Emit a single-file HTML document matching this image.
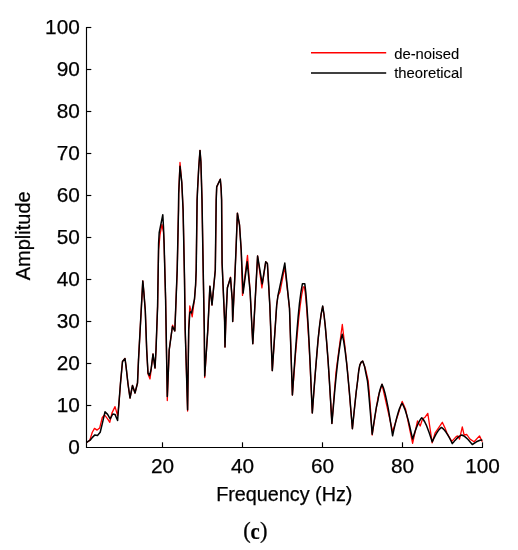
<!DOCTYPE html>
<html><head><meta charset="utf-8"><style>
html,body{margin:0;padding:0;background:#fff;}
body{width:518px;height:550px;overflow:hidden;}
svg{display:block;}
text{font-family:"Liberation Sans",Arial,sans-serif;fill:#000;stroke:#000;stroke-width:0.25px;}
text.sf{font-family:"Liberation Serif","Times New Roman",serif;}
</style></head><body>
<svg width="518" height="550" viewBox="0 0 518 550">
<rect width="518" height="550" fill="#fff"/>
<polyline points="86.6,442.4 89.7,440.5 92.3,432.3 94.5,428.4 97.1,430.1 99.7,427.9 102.3,417.5 104.5,414.8 107.6,418.8 109.8,422.3 111.9,413.1 115.0,406.6 117.6,415.5 118.9,404.4 120.5,383.0 122.5,361.5 125.0,358.5 126.0,366.0 128.0,384.0 130.0,398.0 132.5,385.5 135.0,393.0 137.5,383.0 138.5,360.0 142.8,280.9 143.8,291.8 145.3,310.7 146.7,350.0 148.0,374.0 150.0,379.0 151.0,371.0 153.0,354.0 155.0,368.0 156.0,350.0 157.6,306.3 158.6,250.0 160.0,235.0 161.9,224.5 163.5,232.0 164.1,243.6 165.6,299.0 167.3,400.5 169.2,350.0 172.6,325.2 174.8,331.0 175.8,306.3 177.2,270.0 178.5,210.0 178.7,193.6 180.0,162.5 181.8,182.7 183.1,210.0 184.5,278.6 185.2,330.0 187.6,411.0 188.7,330.0 189.8,305.9 192.2,316.9 194.5,299.0 195.6,285.0 196.2,270.0 197.1,200.0 197.6,189.0 198.7,168.3 200.0,150.4 200.9,161.8 202.0,200.0 203.2,270.0 204.3,330.0 204.7,377.5 207.8,330.0 209.9,286.2 211.3,299.0 212.0,305.0 214.2,281.6 215.3,270.0 216.2,200.0 216.7,186.9 220.3,179.2 221.1,188.0 221.6,200.0 222.1,263.2 224.6,321.0 225.0,347.0 225.9,318.8 227.4,287.8 230.5,277.2 232.3,300.6 232.7,321.5 235.0,273.2 236.0,250.0 237.4,213.2 239.5,224.8 241.2,250.0 242.5,295.4 247.5,255.4 250.1,291.3 252.8,343.7 257.6,256.0 261.9,287.9 265.7,261.8 267.4,263.5 269.8,305.0 272.3,370.6 276.7,305.0 277.9,296.0 280.0,292.0 284.8,267.0 289.5,308.3 292.4,395.0 294.0,374.4 295.5,354.5 297.1,336.1 298.6,319.7 300.2,305.8 301.7,294.8 303.3,287.0 304.5,287.0 305.6,296.1 306.7,308.9 307.8,325.1 309.0,344.2 310.1,365.7 311.2,388.9 312.3,412.9 313.8,392.6 315.3,373.0 316.8,354.9 318.2,338.7 319.7,325.0 321.2,314.2 322.7,306.5 324.0,314.9 325.3,326.8 326.6,341.8 328.0,359.6 329.3,379.6 330.6,401.1 331.9,423.4 336.0,372.0 342.3,324.5 345.0,347.0 347.6,372.0 352.4,428.7 354.3,410.0 356.2,392.0 357.6,381.0 358.7,371.0 359.8,365.1 361.2,362.2 362.7,361.1 364.6,366.6 365.2,368.0 366.6,374.0 368.2,381.0 369.2,392.0 370.8,413.0 372.2,435.0 377.9,398.0 382.0,384.3 392.6,431.7 402.2,401.4 405.5,409.0 412.6,443.4 417.5,421.0 420.2,426.0 422.5,419.0 425.1,417.2 427.8,413.4 432.2,442.9 435.0,433.1 442.3,422.3 444.8,427.6 447.0,433.0 451.8,441.4 456.4,436.4 458.0,436.0 459.5,439.1 462.3,426.8 464.1,435.0 466.8,434.5 470.0,439.1 474.1,441.8 479.5,435.9 482.3,441.8" fill="none" stroke="#ff0000" stroke-width="1.3" stroke-linejoin="round"/>
<polyline points="86.6,442.4 90.1,440.2 92.7,437.1 94.9,434.9 97.5,435.4 100.2,432.3 102.3,423.6 105.0,411.8 107.6,414.4 110.2,418.8 112.8,414.0 115.0,414.4 117.6,420.5 120.5,383.0 122.5,361.5 125.0,358.5 126.0,366.0 128.0,384.0 130.0,398.0 132.5,385.5 135.0,393.0 137.5,383.0 138.5,360.0 142.8,280.9 143.8,291.8 145.3,310.7 146.7,350.0 148.0,373.0 149.5,375.5 151.0,370.0 153.0,354.0 155.0,368.0 156.0,350.0 157.6,306.3 158.6,243.6 159.2,232.7 160.3,227.2 162.8,214.7 163.5,227.2 164.1,243.6 165.6,299.0 167.3,396.5 169.2,350.0 172.4,326.5 174.8,331.0 175.8,306.3 177.2,270.0 178.5,210.0 178.7,193.6 180.0,166.3 181.8,182.7 183.1,210.0 184.5,278.6 185.2,330.0 187.6,409.7 188.7,330.0 189.8,312.9 190.4,311.7 191.6,312.9 194.5,299.0 195.6,285.0 196.2,270.0 197.1,200.0 197.6,189.0 198.7,168.3 200.0,150.4 200.9,161.8 202.0,200.0 203.2,270.0 204.3,330.0 204.7,375.9 207.8,330.0 209.9,286.2 211.3,299.0 212.0,305.0 214.2,281.6 215.3,270.0 216.2,200.0 216.7,186.9 220.3,179.2 221.1,188.0 221.6,200.0 222.1,263.2 224.6,321.0 225.0,347.0 225.9,318.8 227.4,287.8 230.5,277.8 232.3,300.6 232.7,321.5 235.0,273.2 236.0,250.0 237.4,213.2 239.5,224.8 241.2,250.0 243.1,293.1 247.2,261.8 250.1,291.3 252.8,343.7 257.6,256.0 262.2,283.8 265.7,261.8 267.4,263.5 269.8,305.0 272.3,370.6 276.7,305.0 277.9,296.0 284.8,263.1 289.5,308.3 292.4,395.0 293.8,373.8 295.3,353.3 296.7,334.3 298.1,317.4 299.5,303.1 301.0,291.8 302.4,283.8 304.8,283.8 305.9,293.1 306.9,306.2 308.0,322.8 309.1,342.5 310.2,364.5 311.2,388.3 312.3,412.9 313.8,392.5 315.3,372.9 316.8,354.6 318.2,338.3 319.7,324.6 321.2,313.7 322.7,306.0 324.0,314.5 325.3,326.4 326.6,341.5 328.0,359.4 329.3,379.4 330.6,401.0 331.9,423.4 333.4,406.4 334.8,390.0 336.3,374.8 337.8,361.2 339.3,349.8 340.7,340.7 342.2,334.3 343.7,341.1 345.1,350.7 346.6,362.8 348.0,377.2 349.5,393.3 350.9,410.7 352.4,428.7 354.3,410.0 356.2,392.0 357.6,381.0 358.7,371.0 359.8,365.1 361.2,362.2 362.7,361.1 364.6,366.6 365.7,372.4 367.5,381.1 368.6,392.0 370.4,413.0 372.2,434.2 373.6,424.7 375.0,415.5 376.4,407.0 377.9,400.7 379.2,393.0 380.6,387.9 382.0,384.3 383.5,388.0 385.0,393.2 386.5,399.9 388.1,407.7 389.6,416.5 391.1,426.0 392.6,435.8 393.9,429.6 395.3,423.7 396.6,418.1 398.0,413.2 399.3,409.0 400.7,405.7 402.0,403.4 403.5,406.0 405.0,409.6 406.5,414.2 408.1,419.6 409.6,425.7 411.1,432.3 412.6,439.1 413.9,435.0 415.2,431.1 416.5,427.5 417.9,424.2 419.2,421.5 420.5,419.3 421.8,417.8 423.3,419.5 424.8,422.0 426.3,425.1 427.7,428.7 429.2,432.8 430.7,437.2 432.2,441.8 433.5,439.1 434.9,436.4 436.2,433.9 437.5,431.8 438.8,429.9 440.2,428.4 441.5,427.4 443.0,428.6 444.6,430.2 446.1,432.3 447.7,434.8 449.2,437.5 450.8,440.5 452.3,443.6 453.7,442.0 455.0,440.4 456.4,438.9 457.7,437.6 459.1,436.5 460.4,435.6 461.8,435.0 463.3,435.7 464.8,436.7 466.3,437.9 467.8,439.3 469.3,440.9 470.8,442.7 472.3,444.5 476.4,441.8 480.0,440.2 482.3,440.0" fill="none" stroke="#000" stroke-width="1.5" stroke-linejoin="round"/>
<g stroke="#000" stroke-width="1.15" fill="none">
<path d="M86.5,27.00 V447.5 H483.0"/>
<line x1="86.5" y1="405.50" x2="91.3" y2="405.50"/><line x1="86.5" y1="363.50" x2="91.3" y2="363.50"/><line x1="86.5" y1="321.50" x2="91.3" y2="321.50"/><line x1="86.5" y1="279.50" x2="91.3" y2="279.50"/><line x1="86.5" y1="237.50" x2="91.3" y2="237.50"/><line x1="86.5" y1="195.50" x2="91.3" y2="195.50"/><line x1="86.5" y1="153.50" x2="91.3" y2="153.50"/><line x1="86.5" y1="111.50" x2="91.3" y2="111.50"/><line x1="86.5" y1="69.50" x2="91.3" y2="69.50"/><line x1="86.5" y1="27.50" x2="91.3" y2="27.50"/><line x1="162.50" y1="447.5" x2="162.50" y2="442.3"/><line x1="242.50" y1="447.5" x2="242.50" y2="442.3"/><line x1="322.50" y1="447.5" x2="322.50" y2="442.3"/><line x1="402.50" y1="447.5" x2="402.50" y2="442.3"/><line x1="482.50" y1="447.5" x2="482.50" y2="442.3"/>
</g>
<g font-size="20.8">
<text x="79.8" y="453.90" text-anchor="end">0</text><text x="79.8" y="411.90" text-anchor="end">10</text><text x="79.8" y="369.90" text-anchor="end">20</text><text x="79.8" y="327.90" text-anchor="end">30</text><text x="79.8" y="285.90" text-anchor="end">40</text><text x="79.8" y="243.90" text-anchor="end">50</text><text x="79.8" y="201.90" text-anchor="end">60</text><text x="79.8" y="159.90" text-anchor="end">70</text><text x="79.8" y="117.90" text-anchor="end">80</text><text x="79.8" y="75.90" text-anchor="end">90</text><text x="79.8" y="33.90" text-anchor="end">100</text><text x="162.50" y="473.0" text-anchor="middle">20</text><text x="242.50" y="473.0" text-anchor="middle">40</text><text x="322.50" y="473.0" text-anchor="middle">60</text><text x="402.50" y="473.0" text-anchor="middle">80</text><text x="482.50" y="473.0" text-anchor="middle">100</text>
</g>
<text font-size="20" transform="translate(30.3,280.3) rotate(-90)">Amplitude</text>
<text font-size="19.8" x="284.3" y="500.7" text-anchor="middle">Frequency (Hz)</text>
<line x1="311" y1="52.7" x2="386.2" y2="52.7" stroke="#ff0000" stroke-width="1.5"/>
<line x1="311" y1="73" x2="386.2" y2="73" stroke="#000" stroke-width="1.5"/>
<text font-size="14.8" x="394.2" y="58.6" style="stroke-width:0.1px">de-noised</text>
<text font-size="14.8" x="394.2" y="77.9" style="stroke-width:0.1px">theoretical</text>
<g>
<text class="sf" x="243.2" y="538.2" font-size="22.5" stroke="#000" stroke-width="0.3">(</text>
<text class="sf" transform="translate(250.6,538.6) scale(0.9,1)" font-size="23" font-weight="bold">c</text>
<text class="sf" x="260.1" y="538.2" font-size="22.5" stroke="#000" stroke-width="0.3">)</text>
</g>
</svg>
</body></html>
